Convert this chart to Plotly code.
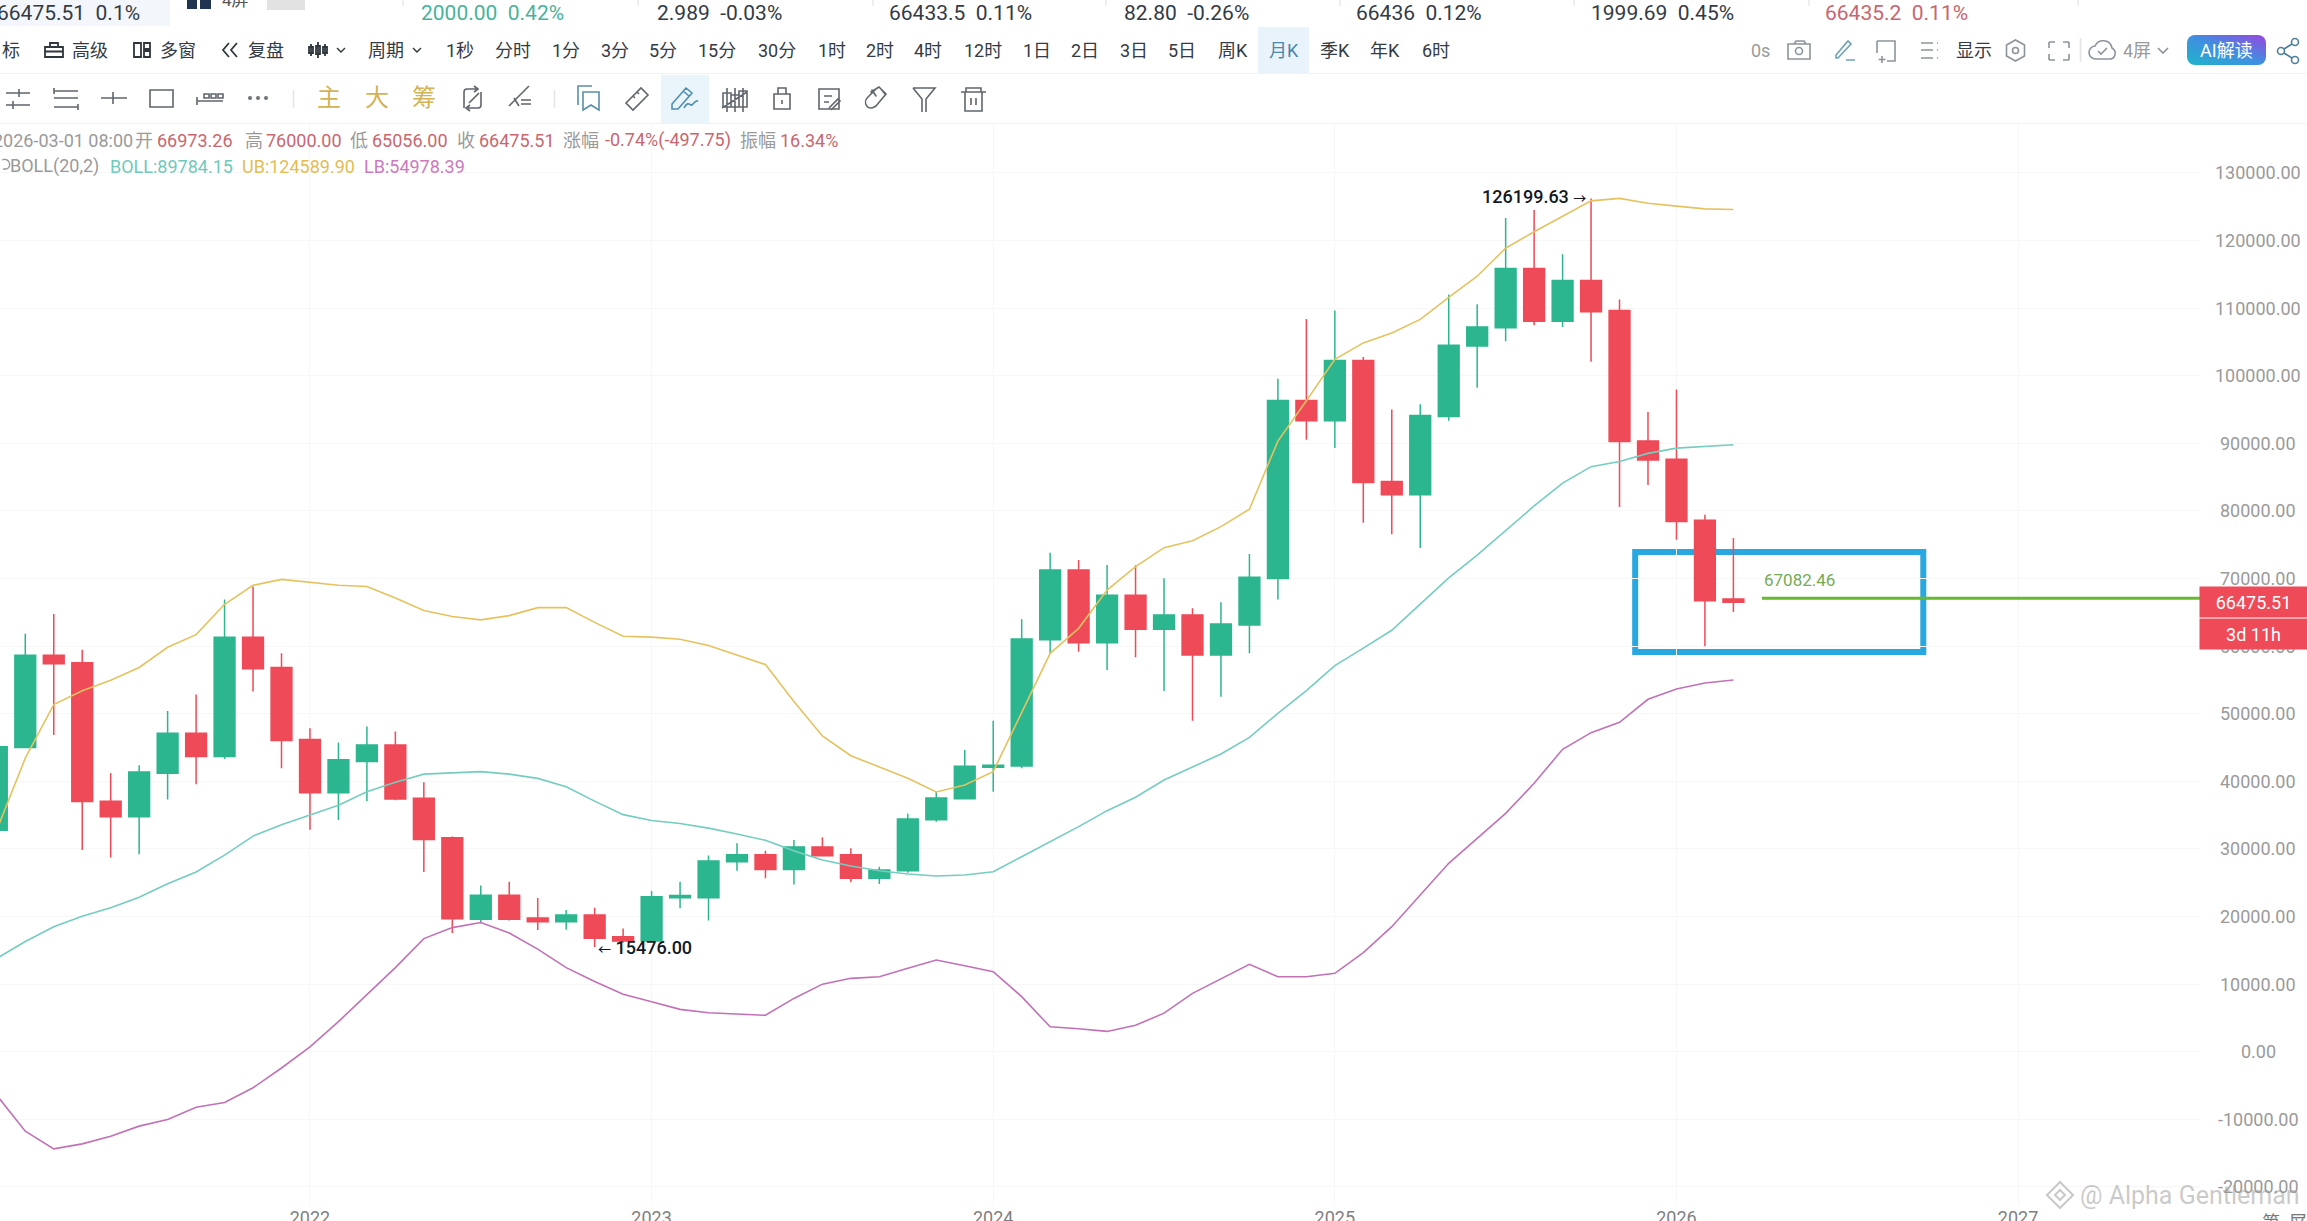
"""Monthly BTC candles with BOLL(20,2), inside the exchange terminal toolbars."""
import base64

import plotly.graph_objects as go

W, H = 2307, 1221
PLOT_LEFT, PLOT_RIGHT, PLOT_TOP, PLOT_BOTTOM = 0, 2200, 124, 1205

# ==========================================
# DATA
# ==========================================
months = [
    "2021-02", "2021-03", "2021-04", "2021-05", "2021-06", "2021-07", "2021-08", "2021-09", "2021-10", "2021-11", "2021-12",
    "2022-01", "2022-02", "2022-03", "2022-04", "2022-05", "2022-06", "2022-07", "2022-08", "2022-09", "2022-10", "2022-11", "2022-12",
    "2023-01", "2023-02", "2023-03", "2023-04", "2023-05", "2023-06", "2023-07", "2023-08", "2023-09", "2023-10", "2023-11", "2023-12",
    "2024-01", "2024-02", "2024-03", "2024-04", "2024-05", "2024-06", "2024-07", "2024-08", "2024-09", "2024-10", "2024-11", "2024-12",
    "2025-01", "2025-02", "2025-03", "2025-04", "2025-05", "2025-06", "2025-07", "2025-08", "2025-09", "2025-10", "2025-11", "2025-12",
    "2026-01", "2026-02", "2026-03",
]
opens = [
    32764, 44986, 58643, 57521, 37067, 34760, 41183, 47107, 43677, 61325, 56835,
    46171, 38314, 42929, 45361, 37504, 31642, 19606, 23161, 19793, 19232, 20230, 16986,
    16363, 22786, 22786, 28087, 29147, 26965, 30280, 29146, 25645, 26778, 34323, 37430,
    42066, 42263, 60951, 71257, 60507, 67509, 62480, 64600, 58683, 63120, 69990, 96346,
    93337, 102260, 84361, 82390, 93959, 104387, 107085, 115853, 108071, 114089, 109627, 90329,
    87630, 78603, 66973.26,
]
highs = [
    58000, 61824, 64755, 59454, 41245, 42368, 50412, 52844, 66875, 68808, 58956,
    47855, 45735, 48105, 47356, 39873, 31829, 24596, 25156, 22725, 20977, 21290, 18234,
    23784, 25156, 29022, 30831, 29708, 31330, 31710, 30082, 27371, 35212, 38465, 44629,
    48968, 63959, 73821, 72736, 71996, 71947, 70024, 65586, 66474, 73624, 99562, 108382,
    109627, 102780, 95000, 95775, 112014, 110561, 123323, 124517, 117980, 126199.63, 111287, 94634,
    97955, 79434, 76000,
]
lows = [
    32300, 44950, 46858, 29833, 28711, 29210, 37317, 39562, 43303, 53281, 41931,
    32826, 34261, 37067, 37200, 26591, 17548, 18983, 19419, 17985, 18047, 15476, 16114,
    16200, 21227, 19419, 26778, 25655, 24719, 28900, 25054, 24806, 26482, 34027, 37300,
    38465, 41917, 58929, 59176, 56464, 58337, 53357, 48968, 52519, 58929, 66878, 90535,
    89290, 78240, 76529, 74504, 93337, 98214, 105113, 107448, 107190, 102052, 80575, 83843,
    75749, 59977, 65056,
]
closes = [
    45111, 58643, 57396, 37005, 34760, 41370, 47107, 43677, 61325, 56648, 46046,
    38314, 43178, 45361, 37379, 31392, 19668, 23161, 19606, 19232, 20230, 16800, 16363,
    22911, 23098, 28212, 29147, 26965, 30270, 28998, 25645, 26879, 34422, 37529, 42213,
    42362, 61050, 71257, 60507, 67509, 62480, 64600, 58683, 63269, 70172, 96346, 93337,
    102260, 84206, 82390, 94115, 104491, 107190, 115853, 108071, 114089, 109471, 90276, 87526,
    78447, 66722, 66475.51,
]
boll_up = [
    32800, 43428, 51347, 53405, 54964, 56835, 59828, 61699, 66189, 68995, 69868,
    69432, 68995, 68808, 67125, 65254, 64381, 63882, 64506, 65690, 65690, 63508, 61450,
    61325, 61013, 60078, 58643, 57272, 51800, 46701, 43791, 42164, 40438, 38416, 39451,
    41424, 50053, 58929, 62628, 68298, 71750, 74561, 75596, 77667, 80250, 90328, 96295,
    102416, 104854, 106307, 108330, 111599, 114711, 118862, 121300, 123635, 125865, 126229, 125502,
    125087, 124672, 124589.90,
]
boll_mid = [
    13806, 16301, 18484, 20043, 21290, 22849, 24844, 26591, 29084, 31891, 33575,
    35009, 36443, 38439, 39873, 41058, 41245, 41432, 41058, 40434, 39187, 37067, 35071,
    34198, 33762, 33076, 32203, 31267, 29708, 28356, 27469, 26778, 26285, 25990, 26137,
    26630, 28849, 31070, 33290, 35655, 37640, 40190, 42160, 44040, 46500, 50052, 53400,
    57115, 59700, 62340, 66203, 70094, 73467, 77098, 80730, 84102, 86541, 87319, 88512,
    89290, 89549, 89784.15,
]
boll_low = [
    -6460, -11761, -14380, -13632, -12510, -11013, -10016, -8207, -7522, -5337, -2408,
    710, 4452, 8381, 12434, 16735, 18358, 19107, 17548, 15179, 12434, 10377, 8506,
    7384, 6260, 5760, 5576, 5388, 7883, 9994, 10852, 11097, 12330, 13560, 12725,
    11840, 8140, 3680, 3400, 3000, 3900, 5700, 8632, 10750, 12920, 11097, 11097,
    11593, 14650, 18496, 23180, 27865, 31563, 35260, 39700, 44730, 47194, 48723, 52125,
    53654, 54541, 54978.39,
]
y_ticks = [130000, 120000, 110000, 100000, 90000, 80000, 70000, 60000, 50000, 40000, 30000, 20000, 10000, 0, -10000, -20000]
year_months = ["2022-01", "2023-01", "2024-01", "2025-01", "2026-01", "2027-01"]
year_labels = ["2022", "2023", "2024", "2025", "2026", "2027"]
last_price = 66475.51
mark_price = 67082.46

GREEN, RED = "#2cb68f", "#ee4a57"
FONT = "Roboto, 'Noto Sans CJK SC', sans-serif"
GREY, DARK = "#9a9a9a", "#333b44"
ARROW = '<span style="font-size:13px">{}</span>'

xs = list(range(len(months)))
year_pos = [(int(m[:4]) - 2021) * 12 + int(m[5:]) - 2 for m in year_months]


def note(x, y, text, size=18, color=DARK, anchor="left", **kw):
    """Terminal text, placed in page pixels."""
    return dict(xref="paper", yref="paper", x=x / W, y=1 - y / H, text=text, showarrow=False,
                xanchor=anchor, yanchor="middle", font=dict(family=FONT, size=size, color=color), **kw)


annotations = []

# Price axis labels are centred in their column, the tags come after so they hide 60000.00
for v in y_ticks:
    annotations.append(dict(xref="paper", yref="y", x=2258 / W, y=v, text=f"{v:.2f}", showarrow=False,
                            xanchor="center", yanchor="middle", font=dict(family=FONT, size=18, color=GREY)))
annotations.append(note(2253.5, 602, f"{last_price:.2f}", 18, "white", "center", width=107, height=30, bgcolor=RED, borderpad=0))
annotations.append(note(2253.5, 633.5, "3d 11h", 18, "white", "center", width=107, height=30, bgcolor=RED, borderpad=0))

# Chart labels
annotations.append(dict(x=months.index("2025-10"), y=max(highs), text="126199.63 " + ARROW.format("→"), showarrow=False,
                        xanchor="right", xshift=-3, yanchor="middle", yshift=2,
                        font=dict(family=FONT, size=18, color="#14181f", weight=500)))
annotations.append(dict(x=months.index("2022-11"), y=min(lows), text=ARROW.format("←") + " 15476.00", showarrow=False,
                        xanchor="left", xshift=1, yanchor="middle",
                        font=dict(family=FONT, size=18, color="#14181f", weight=500)))
annotations.append(dict(x=62, y=mark_price, text=f"{mark_price:.2f}", showarrow=False, xanchor="left", xshift=0,
                        yanchor="bottom", yshift=6, font=dict(family=FONT, size=17, color="#74ab55")))

# Ticker row
for cx, txt, col in [(68, "66475.51&nbsp;&nbsp;0.1%", DARK), (492, "2000.00&nbsp;&nbsp;0.42%", "#47b39b"),
                     (719, "2.989&nbsp;&nbsp;-0.03%", DARK), (960, "66433.5&nbsp;&nbsp;0.11%", DARK),
                     (1186, "82.80&nbsp;&nbsp;-0.26%", DARK), (1419, "66436&nbsp;&nbsp;0.12%", DARK),
                     (1662, "1999.69&nbsp;&nbsp;0.45%", DARK), (1896, "66435.2&nbsp;&nbsp;0.11%", "#c9656e")]:
    annotations.append(note(cx, 13, txt, 21, col, "center"))
annotations.append(note(235, 0, "4屏", 17, "#555", "center"))

# Period row
for cx, txt in [(11, "标"), (90, "高级"), (178, "多窗"), (266, "复盘"), (386, "周期"), (460, "1秒"), (513, "分时"),
                (566, "1分"), (615, "3分"), (663, "5分"), (717, "15分"), (777, "30分"), (832, "1时"), (880, "2时"),
                (928, "4时"), (983, "12时"), (1037, "1日"), (1085, "2日"), (1134, "3日"), (1182, "5日"), (1233, "周K"),
                (1284, "月K"), (1335, "季K"), (1385, "年K"), (1436, "6时"), (1974, "显示")]:
    annotations.append(note(cx, 50, txt, 18, "#4d87ab" if txt == "月K" else DARK, "center"))
annotations.append(note(1760, 51, "0s", 18, GREY, "center"))
annotations.append(note(2137, 51, "4屏", 18, GREY, "center"))
annotations.append(note(2226, 50, "AI解读", 18, "white", "center"))

# Drawing toolbar text
for cx, txt in [(329, "主"), (377, "大"), (424, "筹")]:
    annotations.append(note(cx, 98, txt, 24, "#d3b355", "center"))

# OHLC and indicator rows
for x0, txt, col in [(-9, "2026-03-01 08:00", GREY), (133, "开", GREY), (155, "66973.26", "#c9666f"), (243, "高", GREY),
                     (264, "76000.00", "#c9666f"), (348, "低", GREY), (370, "65056.00", "#c9666f"), (455, "收", GREY),
                     (477, "66475.51", "#c9666f"), (561, "涨幅", GREY), (603, "-0.74%(-497.75)", "#c9666f"),
                     (738, "振幅", GREY), (778, "16.34%", "#c9666f")]:
    annotations.append(note(x0, 140, txt, 18, col))
for x0, txt, col in [(8, "BOLL(20,2)", GREY), (108, "BOLL:89784.15", "#6fcabb"), (240, "UB:124589.90", "#e3bd52"),
                     (362, "LB:54978.39", "#cc79be")]:
    annotations.append(note(x0, 166, txt, 18, col))

# Cut-off axis corner and watermark
annotations.append(note(2284, 1222, "第&nbsp;&nbsp;屏", 18, "#777", "center"))
annotations.append(note(2078, 1195, "@ Alpha Gentleman", 25, "rgba(150,150,150,0.5)"))

# ==========================================
# TOOLBAR ICONS (one transparent svg over the page)
# ==========================================
icons = """
<defs><linearGradient id="ai" x1="0" x2="1" y1="1" y2="0"><stop offset="0" stop-color="#1fb5c9"/><stop offset="0.5" stop-color="#3f8fe0"/><stop offset="1" stop-color="#9a45e0"/></linearGradient></defs>
<rect x="0" y="0" width="170" height="26" fill="#f3f6fa"/>
<rect x="1258" y="27" width="51" height="46" fill="#e8f3fb"/>
<rect x="661" y="75" width="48" height="48" fill="#eaf4fb"/>
<path d="M0 73.5H2307M0 123.5H2307" stroke="#f1f2f3" fill="none"/>
<path d="M403 0v6M638 0v6M873 0v6M1106 0v6M1340 0v6M1574 0v6M1809 0v6M2078 0v6" stroke="#ddd" fill="none"/>
<rect x="187" y="0" width="10" height="9" fill="#1f3550"/><rect x="200" y="0" width="11" height="9" fill="#1f3550"/>
<rect x="267" y="0" width="38" height="10" fill="#e2e2e2"/>
<g fill="none" stroke="#2f363d" stroke-width="1.8">
<path d="M45 47h18v10h-18zM50 47v-4h8v4M45 51.500h18"/>
<path d="M134 43h7v14h-7zM144 43h6v6h-6zM144 51h6v6h-6z"/>
<path d="M229 43l-6 7 6 7M237 43l-6 7 6 7"/>
<path d="M311 44v12M318 42v16M325 44v12M309 47h4v6h-4zM316 46h4v8h-4zM323 47h4v6h-4z"/>
<path d="M337 48l4 4 4-4M413 48l4 4 4-4" stroke-width="1.4"/>
</g>
<g fill="none" stroke="#8b949c" stroke-width="1.6">
<path d="M1788 44h22v15h-22zM1794 44l2-3h8l2 3"/><circle cx="1799" cy="51" r="3.500"/>
<path d="M1838 58l-2 0 0-3 12-14 3 3zM1846 60h9" stroke="#6fa0b8"/>
<path d="M1877 41h18v20h-8M1877 41v12M1882 56v7M1878.500 59.500h7"/>
<path d="M1921 43h12M1921 50h12M1921 58h12M1937 43h1M1937 50h1M1937 58h1"/>
<path d="M2015.500 40l9 5v11l-9 5-9-5v-11z"/><circle cx="2015.500" cy="50.500" r="3"/>
<path d="M2049 42h6M2049 42v6M2069 42h-6M2069 42v6M2049 60h6M2049 60v-6M2069 60h-6M2069 60v-6"/>
<path d="M2080.500 38v24" stroke="#e4e4e4"/>
<path d="M2096 59a6 6 0 0 1-1-13 9 9 0 0 1 17 2 6 6 0 0 1-1 11zM2098 51l3 3 6-6"/>
<path d="M2158 48l5 5 5-5"/>
</g>
<rect x="2187" y="35" width="79" height="30" rx="8" fill="url(#ai)"/>
<g fill="none" stroke="#4d7f99" stroke-width="1.6"><circle cx="2295" cy="42" r="3.500"/><circle cx="2281" cy="51" r="3.500"/><circle cx="2295" cy="60" r="3.500"/><path d="M2284 49l8-5M2284 53l8 5"/></g>
<g fill="none" stroke="#5f666d" stroke-width="1.6">
<path d="M6 93h24M6 105h24M19 89v8M13 101v8"/>
<path d="M54 91h24M54 98h24M54 107h24M54 88v6M78 104v6"/>
<path d="M101 98h26M113 92v12"/>
<path d="M150 90h23v17h-23z"/>
<path d="M197 101h26M197 97v8M204 94h5v4h-5zM211 94h5v4h-5zM218 94h5v4h-5z"/>
<path d="M293.500 90v18M554.500 90v18" stroke="#e6e6e6"/>
<path d="M464 108v-16q0-3 3-3h10M481 92v13q0 3-3 3h-10M474 86l4 3-4 3M470 105l-4 3 4 3M469 103l10-10"/>
<path d="M509 106l20-20M514 98l5 8M521 104h10M521 100h10"/>
<path d="M583 92h16v18l-8-5-8 5zM578 105v-19h14" stroke="#5b8fa6"/>
<path d="M626 103l15-15 7 7-15 15zM633 96l2 2M637 92l2 2"/>
<path d="M672 104l14-16 6 5-14 16-6 0zM683 91l6 5M684 108c4-8 6-2 8-3s3-5 6-4" stroke="#4e8fae"/>
<path d="M727 88v24M735 88v24M743 88v24M723 93h8v14h-8zM731 95h8v12h-8zM739 91h8v16h-8zM722 108l25-16"/>
<path d="M774 94h16v15h-16zM778 94v-6h8v6M782 100v4"/>
<path d="M819 89h20v20h-20zM824 96h8M824 102h5M829 108l9-9 2 2-9 9"/>
<path d="M871 92l8-5 7 7-10 12c-8 6-14-3-8-9l9-9M872 90l4 6M881 89l4 5" stroke-linecap="round"/>
<path d="M913 88h22l-9 11v13M913 88l9 11v13"/>
<path d="M961 92h25M966 92v-4h15v4M965 92v19h17v-19M971 98v7M976 98v7"/>
</g>
<g fill="#6b7278"><circle cx="250" cy="98" r="2"/><circle cx="258" cy="98" r="2"/><circle cx="266" cy="98" r="2"/></g>
<g fill="none" stroke="#c9c9c9" stroke-width="2"><path d="M2060 1182l13 13-13 13-13-13z"/><path d="M2055 1195l5-5 5 5-5 5z"/></g>
<path d="M2 160a5 5 0 1 1 5 9M3 169h4" fill="none" stroke="#999" stroke-width="1.4"/>
"""
svg = f'<svg xmlns="http://www.w3.org/2000/svg" width="{W}" height="{H}" viewBox="0 0 {W} {H}">{icons}</svg>'
icon_uri = "data:image/svg+xml;base64," + base64.b64encode(svg.encode()).decode()

# ==========================================
# PLOTLY RENDERING
# ==========================================
fig = go.Figure()

fig.add_trace(go.Candlestick(
    x=xs, open=opens, high=highs, low=lows, close=closes, whiskerwidth=0,
    increasing=dict(line=dict(color=GREEN, width=1.5), fillcolor=GREEN),
    decreasing=dict(line=dict(color=RED, width=1.5), fillcolor=RED),
    hoverinfo="skip", showlegend=False,
))
for series, color, name in [(boll_up, "#e6c25f", "UB"), (boll_mid, "#74cdbf", "BOLL"), (boll_low, "#c271b6", "LB")]:
    fig.add_trace(go.Scatter(x=xs, y=series, mode="lines", line=dict(color=color, width=1.6), name=name,
                             hoverinfo="skip", showlegend=False))

# Current price line, the blue box sits under the candles
fig.add_shape(type="line", xref="x", yref="y", x0=62, x1=77.39, y0=mark_price, y1=mark_price,
              line=dict(color="#66b82e", width=3), layer="above")
fig.add_shape(type="rect", xref="x", yref="y", x0=57.55, x1=67.67, y0=59130, y1=73920,
              line=dict(color="#29a8e0", width=6), fillcolor="rgba(0,0,0,0)", layer="below")

fig.update_layout(
    width=W, height=H, autosize=False, margin=dict(l=0, r=0, t=0, b=0, pad=0),
    paper_bgcolor="white", plot_bgcolor="white", showlegend=False, hovermode=False, dragmode=False,
    boxgap=0.27, boxgroupgap=0,
    annotations=annotations,
    images=[dict(source=icon_uri, xref="paper", yref="paper", x=0, y=1, sizex=1, sizey=1,
                 xanchor="left", yanchor="top", sizing="stretch", layer="above")],
    xaxis=dict(domain=[PLOT_LEFT / W, PLOT_RIGHT / W], range=[0.112, 77.39], tickmode="array", tickvals=year_pos,
               ticktext=year_labels, showgrid=True, gridcolor="#f7f7f7", zeroline=False, showline=False, automargin=False,
               ticks="", tickfont=dict(family=FONT, size=18, color="#808080"), rangeslider=dict(visible=False)),
    yaxis=dict(domain=[1 - PLOT_BOTTOM / H, 1 - PLOT_TOP / H], range=[-22678, 137234], tickmode="array",
               tickvals=y_ticks, showticklabels=False, showgrid=True, gridcolor="#f7f7f7", zeroline=False,
               showline=False, ticks="", automargin=False),
)

fig.write_html("out.html", config={"displayModeBar": False},
               post_script="document.body.style.margin='0';document.body.style.overflow='hidden';")
